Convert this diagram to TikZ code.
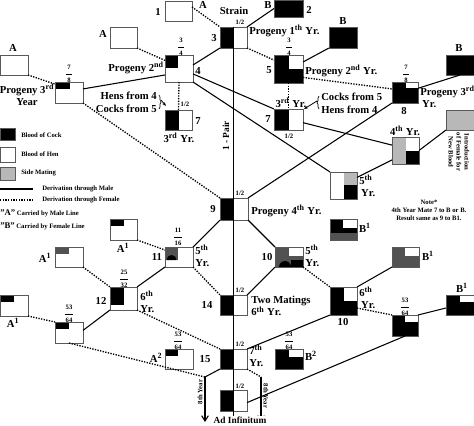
\documentclass[tikz,border=0pt]{standalone}
\usepackage{fontspec}
\setmainfont{Liberation Serif}
\usetikzlibrary{calc,arrows.meta,decorations.pathreplacing}
\newcommand\pf[5]{\fill[#1] ([shift={(#2,#3)}]path picture bounding box.north west) rectangle ++(#4,#5);}
\newcommand\fr[2]{$\displaystyle\frac{\mbox{\,#1\,}}{\mbox{\,#2\,}}$}
\definecolor{hatch}{gray}{0.72}
\definecolor{dg}{gray}{0.32}
\definecolor{edge}{gray}{0.35}
\begin{document}
\begin{tikzpicture}[x=0.75pt,y=-0.75pt,
 bx/.style 2 args={draw=edge, line width=0.5pt, fill=white, inner sep=0pt, outer sep=0pt, minimum width=#1*0.75pt, minimum height=#2*0.75pt},
 lbl/.style={font=\fontsize{8}{9.5}\selectfont\bfseries, inner sep=0pt},
 md/.style={font=\fontsize{7}{8}\selectfont\bfseries, inner sep=0pt},
 sm/.style={font=\fontsize{5}{6}\selectfont\bfseries, inner sep=0pt},
 lg/.style={font=\fontsize{5}{6}\selectfont\bfseries, inner sep=0pt, anchor=west},
 male/.style={line width=0.8pt},
 fem/.style={line width=1pt, dash pattern=on 1pt off 1pt},
]
\useasboundingbox[fill=white] (0,0) rectangle (474,425);

% ---------- boxes ----------
\node[bx={27}{20}] (b1) at (178.5,11) {};
\node[bx={29}{17}, fill=black] (b2) at (288.5,8.5) {};
\node[bx={27}{21}, path picture={\pf{black}{0}{0}{13.5}{21}}] (b3) at (233.5,37.5) {};
\node[bx={27}{21}] (bA) at (123.5,37.5) {};
\node[bx={28}{27}, path picture={\pf{black}{0}{0}{13}{13}}] (b4) at (179,68.5) {};
\node[bx={29}{28}, fill=black, path picture={\pf{white}{14.5}{0}{14.5}{14}}] (b5) at (288.5,69) {};
\node[bx={28}{21}, fill=black] (bB) at (343,37.5) {};
\node[bx={28}{20}] (bAL) at (14,65) {};
\node[bx={28}{21}, path picture={\pf{black}{0}{0}{15}{7}}] (b78L) at (69,92.5) {};
\node[bx={26}{21}, fill=black, path picture={\pf{white}{14}{0}{12}{6}}] (b8) at (405,92.5) {};
\node[bx={28}{20}, fill=black] (bBR) at (460,65) {};
\node[bx={27}{20}, path picture={\pf{black}{0}{0}{13.5}{20}}] (b7L) at (178.5,120) {};
\node[bx={29}{21}, path picture={\pf{black}{0}{0}{14.5}{21}}] (b7R) at (288.5,119.5) {};
\node[bx={28}{20}, fill=hatch] (bIntro) at (460,120) {};
\node[bx={27}{27}, path picture={\pf{hatch}{0}{0}{13.5}{27}\pf{black}{13.5}{13.5}{13.5}{13.5}}] (b4th) at (405.5,150.5) {};
\node[bx={27}{27}, path picture={\pf{hatch}{13.5}{0}{13.5}{13}\pf{black}{13.5}{13}{13.5}{14}}] (b5thR) at (343.5,185.5) {};
\node[bx={28}{22}, path picture={\pf{black}{0}{0}{14}{22}}] (b9) at (234,209) {};
\node[bx={27}{21}, path picture={\pf{black}{0}{0}{14}{7}}] (bA1a) at (123.5,229.5) {};
\node[bx={27}{21}, fill=black, path picture={\pf{white}{13}{0}{14}{9}\pf{dg}{0}{14}{27}{7}}] (bB1a) at (343.5,229.5) {};
\node[bx={28}{20}, path picture={\pf{dg}{0}{0}{14}{7}}] (bA1b) at (69,257) {};
\node[bx={28}{20}, path picture={\pf{dg}{0}{0}{13}{13}\fill[black] ([shift={(1.5,13)}]path picture bounding box.north west) arc[start angle=180,end angle=360,radius=5] -- cycle;}] (b11) at (179,257) {};
\node[bx={28}{20}, fill=dg, path picture={\pf{white}{14}{0}{14}{9}\pf{black}{16}{13}{12}{7}\fill[black] ([shift={(4,20)}]path picture bounding box.north west) arc[start angle=180,end angle=360,radius=6] -- cycle;}] (b10a) at (289,257) {};
\node[bx={27}{20}, fill=dg, path picture={\pf{white}{13}{0}{14}{9}}] (bB1b) at (405.5,257) {};
\node[bx={27}{23}, path picture={\pf{black}{0}{0}{14}{18}}] (b12) at (123.5,298.5) {};
\node[bx={28}{21}, path picture={\pf{black}{0}{0}{14}{7}}] (bA1c) at (14,305.5) {};
\node[bx={27}{20}, path picture={\pf{black}{0}{0}{13.5}{20}}] (b14) at (233.5,305) {};
\node[bx={27}{28}, fill=black, path picture={\pf{white}{13.5}{0}{13.5}{14}}] (b10b) at (343.5,301) {};
\node[bx={28}{20}, fill=black, path picture={\pf{white}{14}{0}{14}{7}}] (bB1c) at (460,305) {};
\node[bx={26}{21}, fill=black, path picture={\pf{white}{13}{0}{13}{7}}] (b53R) at (405,325.5) {};
\node[bx={28}{21}, path picture={\pf{black}{0}{0}{14}{7}}] (b53L) at (69,332.5) {};
\node[bx={28}{20}, path picture={\pf{black}{0}{0}{13}{7}}] (bA2) at (179,359) {};
\node[bx={27}{20}, path picture={\pf{black}{0}{0}{13.5}{20}}] (b15) at (233.5,359) {};
\node[bx={28}{20}, fill=black, path picture={\pf{white}{14}{0}{14}{8}}] (bB2) at (289,359) {};
\node[bx={27}{21}, path picture={\pf{black}{0}{0}{13.5}{21}}] (bBot) at (233.5,400.5) {};

% legend boxes
\node[bx={15}{12}, fill=black] (lg1) at (7.5,134) {};
\node[bx={15}{15}] (lg2) at (7.5,154.5) {};
\node[bx={15}{13}, fill=hatch] (lg3) at (7.5,173.5) {};
\coordinate (lgm1) at (0,189); \coordinate (lgm2) at (33,189);
\coordinate (lgf1) at (0,200); \coordinate (lgf2) at (33,200);
\draw[male] (lgm1) -- (lgm2);
\draw[fem] (lgf1) -- (lgf2);

% arrow coordinates
\coordinate (la) at (205,377); \coordinate (lae) at (205,422);
\coordinate (ra) at (261,377); \coordinate (rae) at (261,422);
\coordinate (vbot) at (233.5,416);

% ---------- main vertical ----------
\draw[male] (b3.north) -- (vbot);

% ---------- male (solid) connectors ----------
\draw[male] (b2.west) -- (b3.north east);
\draw[male] (b3.south west) -- ($(b4.north east)!0.37!(b4.south east)$);
\draw[male] (bB.south west) -- ($(b5.north east)!0.25!(b5.south east)$);
\draw[male] ($(b78L.north east)!0.33!(b78L.south east)$) -- ($(b4.north west)!0.74!(b4.south west)$);
\draw[male] ($(b8.north east)!0.3!(b8.south east)$) -- (bBR.south);
\draw[male] (b8.south west) -- (b9.north east);
\draw[male] ($(b4.north east)!0.7!(b4.south east)$) -- (b7R.north west);
\draw[male] (b4.south east) -- (b5thR.north west);
\draw[male] ($(b7R.north east)!0.65!(b7R.south east)$) -- ($(b4th.north west)!0.3!(b4th.south west)$);
\draw[male] ($(b4th.north west)!0.85!(b4th.south west)$) -- ($(b5thR.north east)!0.2!(b5thR.south east)$);
\draw[male] ($(b4th.north east)!0.5!(b4th.south east)$) -- (bIntro.south west);
\draw[male] (b9.south west) -- (b11.north east);
\draw[male] (b9.south east) -- (b10a.north west);
\draw[male] (b11.south west) -- (b12.north east);
\draw[male] (b10a.south west) -- (b14.north east);
\draw[male] ($(b53L.north east)!0.4!(b53L.south east)$) -- (b12.south west);
\draw[male] (bB1b.south west) -- (b10b.north east);
\draw[male] (b10b.south west) -- (b15.north east);
\draw[male] (b53R.north east) -- ($(bB1c.north west)!0.65!(bB1c.south west)$);
\draw[male] (b53R.south) -- ($(bBot.north east)!0.6!(bBot.south east)$);
\draw[male] (b15.south west) -- (la);

% ---------- female (dotted) connectors ----------
\draw[fem] ($(b1.north east)!0.3!(b1.south east)$) -- (b3.north west);
\draw[fem] (bA.south east) -- ($(b4.north west)!0.2!(b4.south west)$);
\draw[fem] (b3.south east) -- ($(b5.north west)!0.18!(b5.south west)$);
\draw[fem] (bAL.south east) -- ($(b78L.north west)!0.1!(b78L.south west)$);
\draw[fem] (b78L.south east) -- (b9.north west);
\draw[fem] (b4.south) -- (b7L.north);
\draw[fem] (b5.south) -- (b7R.north);
\draw[fem] ($(b5.north east)!0.8!(b5.south east)$) -- ($(b8.north west)!0.33!(b8.south west)$);
\draw[fem] (bA1a.south east) -- ($(b11.north west)!0.15!(b11.south west)$);
\draw[fem] (bA1b.south east) -- (b12.north west);
\draw[fem] (b11.south east) -- (b14.north west);
\draw[fem] (b10a.south east) -- (b10b.north west);
\draw[fem] ($(b10b.north east)!0.75!(b10b.south east)$) -- (b53R.north west);
\draw[fem] (bA1c.south east) -- (b53L.north west);
\draw[fem] (b12.south east) -- (b15.north west);
\draw[fem] (b53L.south) -- (la);
\draw[fem] (b15.south east) -- (ra);

% bottom arrows
\draw[male,-{Straight Barb[length=4pt,width=5pt]}] (la) -- (lae);
\draw[male,-{Straight Barb[length=4pt,width=5pt]}] (ra) -- (rae);

% ---------- labels ----------
\node[lbl] (tStrain) at (234,11) {Strain};
\node[lbl] (t1) at (158,12) {1};
\node[lbl] (tA1) at (203,5) {A};
\node[lbl] (t2) at (309,10) {2};
\node[lbl] (tB1) at (268,5) {B};
\node[lbl] (t3) at (214,38) {3};
\node[sm] (f3) at (240,22) {1/2};
\node[lbl, anchor=west] (tP1) at (249,31) {Progeny 1\textsuperscript{th} Yr.};
\node[lbl] (tA2) at (103,34) {A};
\node[lbl, anchor=east] (tP2) at (164,68) {Progeny 2\textsuperscript{nd}};
\node[lbl] (t4) at (198,71) {4};
\node[sm] (f4) at (181,47) {\fr{3}{4}};
\node[lbl] (t5) at (269,70) {5};
\node[sm] (f5) at (289,47) {\fr{3}{4}};
\node[lbl, anchor=west] (tP2r) at (305,71) {Progeny 2\textsuperscript{nd} Yr.};
\node[lbl] (tB2) at (343,21) {B};
\node[lbl] (tA3) at (13,48) {A};
\node[sm] (f78L) at (69,74) {\fr{7}{8}};
\node[lbl, align=center] (tP3L) at (27,95) {Progeny 3\textsuperscript{rd}\\Year};
\node[sm] (f8) at (406,74) {\fr{7}{8}};
\node[lbl] (t8) at (404,111) {8};
\node[lbl] (tB3) at (459,48) {B};
\node[lbl, anchor=west, align=left] (tP3R) at (420,97) {Progeny 3\textsuperscript{rd}\\\,Yr.};
\node[lbl, anchor=east, align=right] (tHC) at (157,102) {Hens from 4\\Cocks from 5};
\draw[line width=0.5pt, decorate, decoration={brace, amplitude=1.5pt}] (159,95) -- (159,109);
\draw[line width=0.6pt, -{Stealth[length=3pt]}] (161,100) -- (166,106);
\node[sm] (f7L) at (185,104) {1/2};
\node[lbl] (t7L) at (198,121) {7};
\node[lbl] (t7Ly) at (179,138) {3\textsuperscript{rd} Yr.};
\node[lbl] (t7Ry) at (291,103) {3\textsuperscript{rd} Yr.};
\node[lbl] (t7R) at (268,119) {7};
\node[sm] (f7R) at (289,136) {1/2};
\node[lbl, anchor=west, align=left] (tCH) at (321,103) {Cocks from 5\\Hens from 4};
\draw[line width=0.5pt, decorate, decoration={brace, amplitude=1.5pt}] (319,109) -- (319,96);
\draw[line width=0.6pt, -{Stealth[length=3pt]}] (317,101) -- (304,109);
\node[md, rotate=90] (tPair) at (226,136) {1 - Pair};
\node[lbl] (t4th) at (405,131) {4\textsuperscript{th} Yr.};
\node[sm, rotate=-90, align=center] (tIntro) at (459,152) {Introduction\\of Female for\\New Blood};
\node[lbl, anchor=west, align=left] (t5thR) at (359,186) {5\textsuperscript{th}\\\,Yr.};
\node[lbl] (t9) at (213,209) {9};
\node[sm] (f9) at (240,193) {1/2};
\node[lbl, anchor=west] (tP4) at (251,211) {Progeny 4\textsuperscript{th} Yr.};
\node[sm, align=center] (tNote) at (429,210) {Note*\\4th Year Mate 7 to B or B.\\Result same as 9 to B1.};

% legend text
\node[lg] (lt1) at (21,135) {Blood of Cock};
\node[lg] (lt2) at (21,154) {Blood of Hen};
\node[lg] (lt3) at (21,173) {Side Mating};
\node[lg] (lt4) at (42,189) {Derivation through Male};
\node[lg] (lt5) at (42,200) {Derivation through Female};
\node[lg] (lt6) at (0,213) {\fontsize{6.5}{7}\selectfont"A"\fontsize{5}{6}\selectfont{} Carried by Male Line};
\node[lg] (lt7) at (0,226) {\fontsize{6.5}{7}\selectfont"B"\fontsize{5}{6}\selectfont{} Carried by Female Line};

% lower half labels
\node[lbl] (tA1a) at (123,248) {A\textsuperscript{1}};
\node[lbl] (tB1a) at (365,228) {B\textsuperscript{1}};
\node[lbl] (tA1b) at (45,258) {A\textsuperscript{1}};
\node[lbl] (t11) at (157,257) {11};
\node[sm] (f11) at (178,237) {\fr{11}{16}};
\node[lbl, anchor=west, align=left] (t5th11) at (195,256) {5\textsuperscript{th}\\Yr.};
\node[lbl] (t10a) at (267,257) {10};
\node[lbl, anchor=west, align=left] (t5th10) at (305,256) {5\textsuperscript{th}\\Yr.};
\node[lbl] (tB1b) at (428,256) {B\textsuperscript{1}};
\node[lbl] (t12) at (101,301) {12};
\node[sm] (f12) at (124,279) {\fr{25}{32}};
\node[lbl, anchor=west, align=left] (t6th12) at (140,302) {6\textsuperscript{th}\\Yr.};
\node[lbl] (tA1c) at (13,323) {A\textsuperscript{1}};
\node[lbl] (t14) at (207,305) {14};
\node[sm] (f14) at (240,290) {1/2};
\node[lbl, anchor=west, align=left] (tTwo) at (251,306) {Two Matings\\6\textsuperscript{th} Yr.};
\node[lbl, anchor=west, align=left] (t6th10) at (359,298) {6\textsuperscript{th}\\\,Yr.};
\node[lbl] (t10b) at (343,322) {10};
\node[lbl] (tB1c) at (462,288) {B\textsuperscript{1}};
\node[sm] (f53R) at (405,307) {\fr{53}{64}};
\node[sm] (f53L) at (69,314) {\fr{53}{64}};
\node[lbl] (tA2b) at (156,358) {A\textsuperscript{2}};
\node[sm] (fA2) at (178,341) {\fr{53}{64}};
\node[lbl] (t15) at (205,359) {15};
\node[sm] (f15) at (240,344) {1/2};
\node[lbl, anchor=west, align=left] (t7th) at (249,356) {7\textsuperscript{th}\\Yr.};
\node[lbl] (tB2b) at (311,356) {B\textsuperscript{2}};
\node[sm] (fB2) at (289,341) {\fr{53}{64}};
\node[sm] (fBot) at (240,386) {1/2};
\node[sm, rotate=90] (t8L) at (200,392) {8th Year};
\node[sm, rotate=-90] (t8R) at (266,396) {8th Year};
\node[md, fill=white, inner sep=0.5pt] (tAd) at (240,420) {Ad Infinitum};
\end{tikzpicture}
\end{document}
